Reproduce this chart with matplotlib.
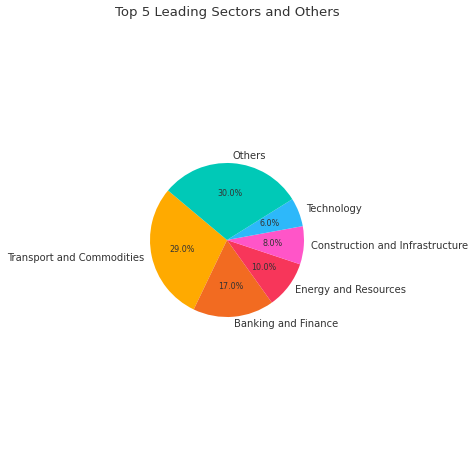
import matplotlib
matplotlib.use("Agg")
import matplotlib.pyplot as plt

sectors = ["Transport and Commodities", "Banking and Finance", "Energy and Resources",
           "Construction and Infrastructure", "Technology", "Others"]
shares = [29.0, 17.0, 10.0, 8.0, 6.0, 30.0]
colors = ["#FFAA00", "#F26B21", "#F7365A", "#FF55C8", "#2DB8FA", "#00C9B7"]

W, H = 474, 466
fig = plt.figure(figsize=(W / 100, H / 100), dpi=100)
cx, cy, R = 227, 240, 77
half = 1.25 * R
ax = fig.add_axes([(cx - half) / W, (H - cy - half) / H, 2 * half / W, 2 * half / H])

wedges, texts, autotexts = ax.pie(shares, labels=sectors, colors=colors, startangle=140,
                                  autopct="%1.1f%%", pctdistance=0.6, labeldistance=1.1,
                                  textprops={"color": "#333333", "fontsize": 7.2})
for t in autotexts:
    t.set_fontsize(5.8)
ax.set_xlim(-1.25, 1.25)
ax.set_ylim(-1.25, 1.25)
ax.set_aspect("equal")

fig.text(cx / W, 1 - 12.5 / H, "Top 5 Leading Sectors and Others", ha="center", va="center",
         fontsize=9.5, color="#333333")

fig.savefig("out.png", dpi=100)
